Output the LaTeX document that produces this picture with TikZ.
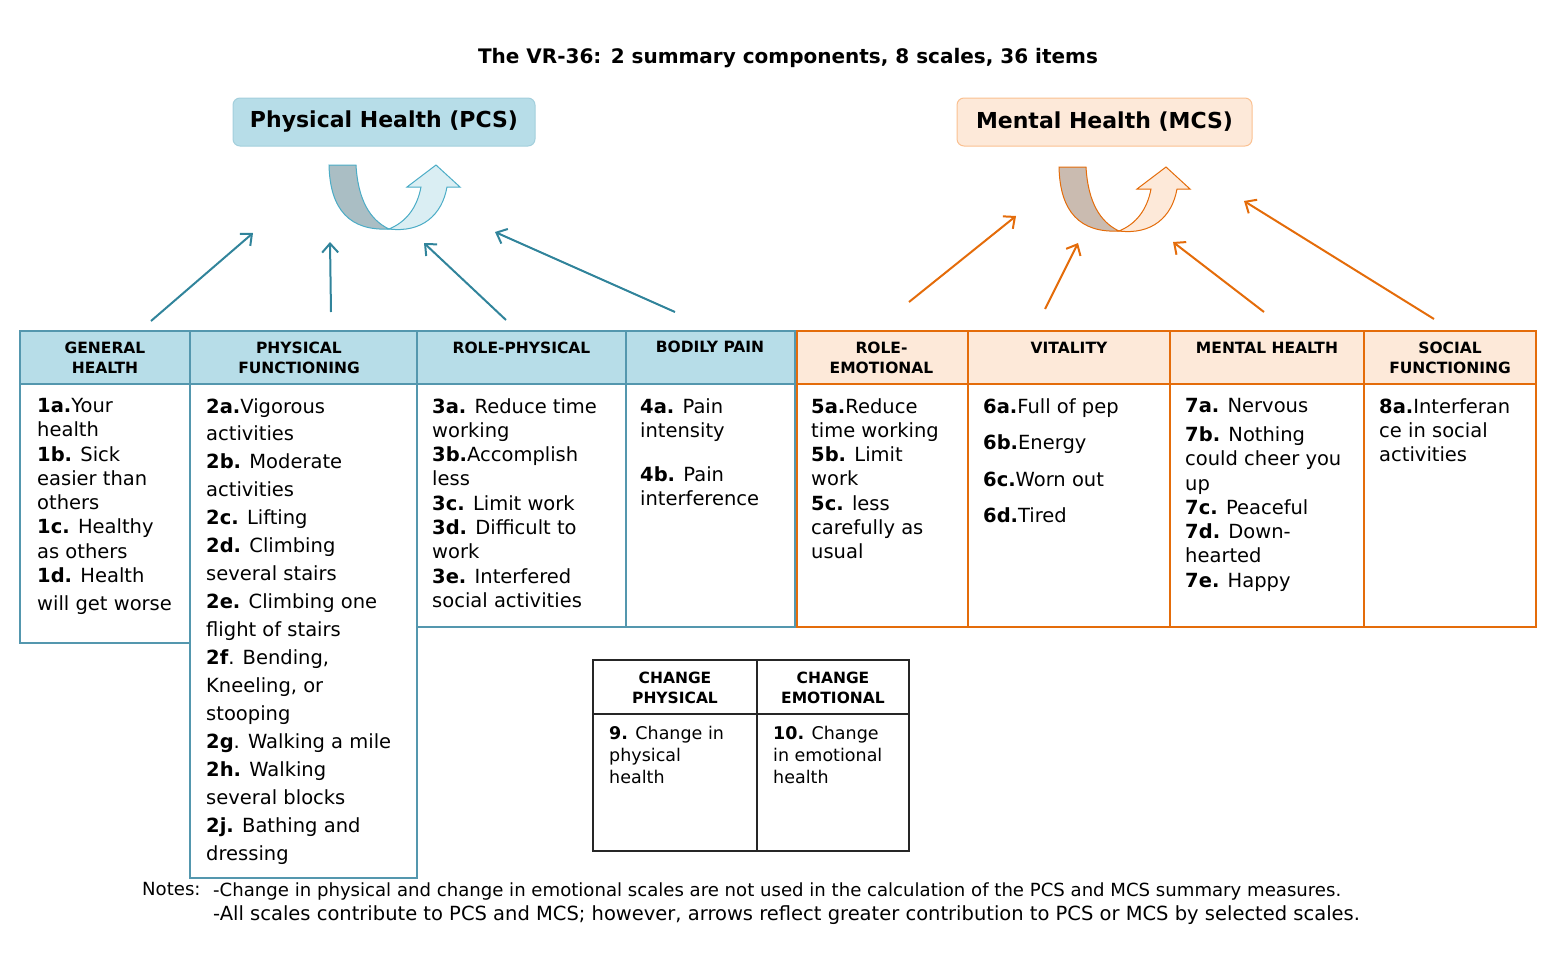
\documentclass[tikz,border=0pt]{standalone}
\usepackage{fontspec}
\setmainfont{DejaVu Sans}
\usepackage{tikz}
\usetikzlibrary{arrows.meta}
\definecolor{pcsfill}{RGB}{183,221,232}
\definecolor{pcsline}{RGB}{84,151,174}
\definecolor{pcsarrow}{RGB}{49,132,155}
\definecolor{pcsdark}{RGB}{170,190,196}
\definecolor{pcslight}{RGB}{218,238,243}
\definecolor{pcsedge}{RGB}{75,172,198}
\definecolor{mcsfill}{RGB}{253,233,217}
\definecolor{mcsline}{RGB}{228,108,10}
\definecolor{mcsdark}{RGB}{202,187,176}
\definecolor{mcsedge}{RGB}{250,192,144}

% u-turn arrow below a summary box
\newcommand{\uturnarrow}[4]{%
\begin{scope}[shift={#1}]
\filldraw [fill=#2, draw=#4, line width=1pt] (329,165) -- (356,165) .. controls (358,200) and (370,220) .. (389,229) .. controls (350,231) and (330,210) .. (329,165) -- cycle;
\filldraw [fill=#3, draw=#4, line width=1pt] (389,229) .. controls (406,222) and (417,208) .. (421,187) -- (407,187) -- (436,165) -- (460,187) -- (447,187) .. controls (442,215) and (422,233) .. (389,229) -- cycle;
\end{scope}}

\begin{document}
\begin{tikzpicture}[x=1pt,y=-1pt]
\tikzstyle{every node}+=[inner sep=0pt]
\tikzstyle{head}=[anchor=north, align=center, font=\fontsize{15.5}{20}\selectfont\bfseries]
\tikzstyle{itemtext}=[anchor=north west, align=left, font=\fontsize{19.5}{24.3}\selectfont]
\tikzstyle{chtext}=[anchor=north west, align=left, font=\fontsize{17.5}{22}\selectfont]
\tikzstyle{pcell}=[draw=pcsline, line width=1.4pt]
\tikzstyle{mcell}=[draw=mcsline, line width=1.4pt]
\tikzstyle{ccell}=[draw=black!85, line width=1.2pt]
\tikzstyle{parrow}=[draw=pcsarrow, line width=2pt, -{Straight Barb[length=9pt,width=16pt]}]
\tikzstyle{marrow}=[draw=mcsline, line width=2pt, -{Straight Barb[length=9pt,width=16pt]}]
\path [use as bounding box] (0,0) rectangle (1560,969);

\node (title) at (788,58) {\fontsize{20}{24}\selectfont\bfseries The VR-36: 2 summary components, 8 scales, 36 items};

\node [draw=pcsfill!80!pcsline, fill=pcsfill, rounded corners=7pt, line width=1pt, minimum width=302pt, minimum height=48pt] (pcs) at (384,122) {\fontsize{22}{26}\selectfont\bfseries Physical Health (PCS)};
\node [draw=mcsedge, fill=mcsfill, rounded corners=7pt, line width=1pt, minimum width=295pt, minimum height=48pt] (mcs) at (1104.5,122) {\fontsize{22}{26}\selectfont\bfseries Mental Health (MCS)};

\uturnarrow{(0,0)}{pcsdark}{pcslight}{pcsedge}
\uturnarrow{(730,2)}{mcsdark}{mcsfill}{mcsline}

% physical scales
\draw [pcell, fill=pcsfill] (20,331) rectangle (190,384);
\draw [pcell] (20,384) rectangle (190,643);
\draw [pcell, fill=pcsfill] (190,331) rectangle (417,384);
\draw [pcell] (190,384) rectangle (417,878);
\draw [pcell, fill=pcsfill] (417,331) rectangle (626,384);
\draw [pcell] (417,384) rectangle (626,627);
\draw [pcell, fill=pcsfill] (626,331) rectangle (795,384);
\draw [pcell] (626,384) rectangle (795,627);
% mental scales
\draw [mcell, fill=mcsfill] (797,331) rectangle (968,384);
\draw [mcell] (797,384) rectangle (968,627);
\draw [mcell, fill=mcsfill] (968,331) rectangle (1170,384);
\draw [mcell] (968,384) rectangle (1170,627);
\draw [mcell, fill=mcsfill] (1170,331) rectangle (1364,384);
\draw [mcell] (1170,384) rectangle (1364,627);
\draw [mcell, fill=mcsfill] (1364,331) rectangle (1536,384);
\draw [mcell] (1364,384) rectangle (1536,627);

\node [head] (gh-head) at (105,341.5) {GENERAL\\HEALTH};
\node [head] (pf-head) at (299,341.5) {PHYSICAL\\FUNCTIONING};
\node [head] (rp-head) at (521.5,341.5) {ROLE-PHYSICAL};
\node [head] (bp-head) at (710,340.5) {BODILY PAIN};
\node [head] (re-head) at (881.5,341.5) {ROLE-\\EMOTIONAL};
\node [head] (vt-head) at (1069,341.5) {VITALITY};
\node [head] (mh-head) at (1267,341.5) {MENTAL HEALTH};
\node [head] (sf-head) at (1450,341.5) {SOCIAL\\FUNCTIONING};

\node [itemtext] (gh-items) at (37,398) {\textbf{1a.}Your\\health\\\textbf{1b.} Sick\\easier than\\others\\\textbf{1c.} Healthy\\as others\\\textbf{1d.} Health\\[3.7pt]will get worse};
\node [itemtext, font=\fontsize{19.5}{27.94}\selectfont] (pf-items) at (206,398) {\textbf{2a.}Vigorous\\activities\\\textbf{2b.} Moderate\\activities\\\textbf{2c.} Lifting\\\textbf{2d.} Climbing\\several stairs\\\textbf{2e.} Climbing one\\flight of stairs\\\textbf{2f}. Bending,\\Kneeling, or\\stooping\\\textbf{2g}. Walking a mile\\\textbf{2h.} Walking\\several blocks\\\textbf{2j.} Bathing and\\dressing};
\node [itemtext] (rp-items) at (432,398) {\textbf{3a.} Reduce time\\working\\\textbf{3b.}Accomplish\\less\\\textbf{3c.} Limit work\\\textbf{3d.} Difficult to\\work\\\textbf{3e.} Interfered\\social activities};
\node [itemtext] (bp-items) at (640,398) {\textbf{4a.} Pain\\intensity\\[19.7pt]\textbf{4b.} Pain\\interference};
\node [itemtext] (re-items) at (811,398) {\textbf{5a.}Reduce\\time working\\\textbf{5b.} Limit\\work\\\textbf{5c.} less\\carefully as\\usual};
\node [itemtext, font=\fontsize{19.5}{36.5}\selectfont] (vt-items) at (983,398) {\textbf{6a.}Full of pep\\\textbf{6b.}Energy\\\textbf{6c.}Worn out\\\textbf{6d.}Tired};
\node [itemtext] (mh-items) at (1185,398) {\textbf{7a.} Nervous\\[4.7pt]\textbf{7b.} Nothing\\could cheer you\\up\\\textbf{7c.} Peaceful\\\textbf{7d.} Down-\\hearted\\\textbf{7e.} Happy};
\node [itemtext] (sf-items) at (1379,398) {\textbf{8a.}Interferan\\ce in social\\activities};

% change scales
\draw [ccell] (593,660) rectangle (757,714);
\draw [ccell] (593,714) rectangle (757,851);
\draw [ccell] (757,660) rectangle (909,714);
\draw [ccell] (757,714) rectangle (909,851);
\node [head] (cp-head) at (675,671.5) {CHANGE\\PHYSICAL};
\node [head] (ce-head) at (833,671.5) {CHANGE\\EMOTIONAL};
\node [chtext] (cp-items) at (609,726) {\textbf{9.} Change in\\physical\\health};
\node [chtext] (ce-items) at (773,726) {\textbf{10.} Change\\in emotional\\health};

% arrows to the summary components
\coordinate (gh-out) at (151,321);
\coordinate (pcs-in1) at (253,233);
\coordinate (pf-out) at (331,312);
\coordinate (pcs-in2) at (330,242);
\coordinate (rp-out) at (506,320);
\coordinate (pcs-in3) at (424,243);
\coordinate (bp-out) at (675,312);
\coordinate (pcs-in4) at (495,232);
\coordinate (re-out) at (909,302);
\coordinate (mcs-in1) at (1016,216);
\coordinate (vt-out) at (1045,309);
\coordinate (mcs-in2) at (1078,243);
\coordinate (mh-out) at (1264,312);
\coordinate (mcs-in3) at (1173,242);
\coordinate (sf-out) at (1434,319);
\coordinate (mcs-in4) at (1244,201);
\draw [parrow] (gh-out) -- (pcs-in1);
\draw [parrow] (pf-out) -- (pcs-in2);
\draw [parrow] (rp-out) -- (pcs-in3);
\draw [parrow] (bp-out) -- (pcs-in4);
\draw [marrow] (re-out) -- (mcs-in1);
\draw [marrow] (vt-out) -- (mcs-in2);
\draw [marrow] (mh-out) -- (mcs-in3);
\draw [marrow] (sf-out) -- (mcs-in4);

\node [anchor=north west, font=\fontsize{18.1}{24}\selectfont] (notes) at (142,882.5) {Notes:};
\node [anchor=north west, align=left, font=\fontsize{18.1}{24}\selectfont] (notes-text) at (213,882.5) {-Change in physical and change in emotional scales are not used in the calculation of the PCS and MCS summary measures.\\{\fontsize{19.5}{24}\selectfont -All scales contribute to PCS and MCS; however, arrows reflect greater contribution to PCS or MCS by selected scales.}};
\end{tikzpicture}
\end{document}
